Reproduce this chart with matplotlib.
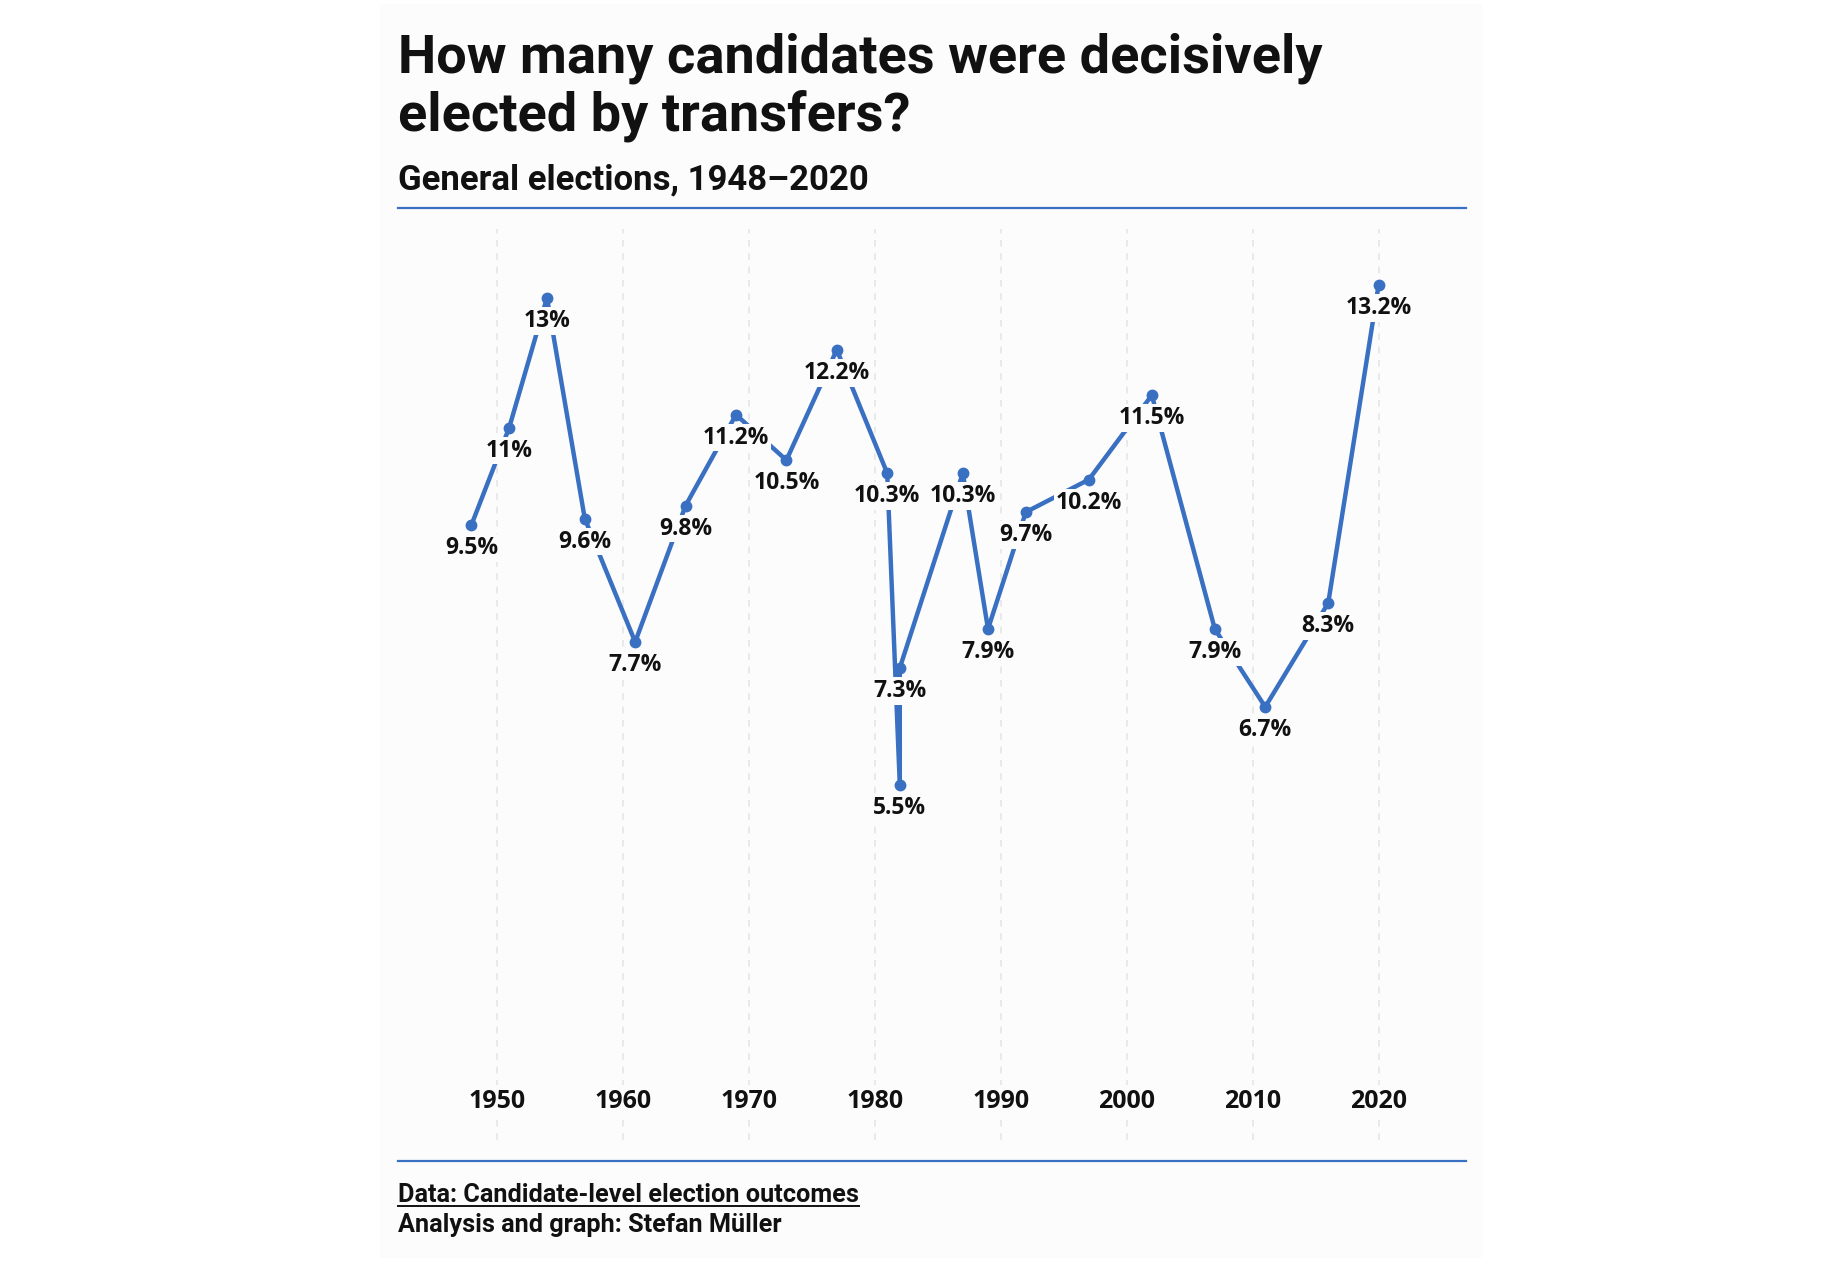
import matplotlib
matplotlib.use('Agg')
import matplotlib.pyplot as plt
from matplotlib.patches import Rectangle
from matplotlib.lines import Line2D

# data: share of candidates decisively elected by transfers
years = [1948, 1951, 1954, 1957, 1961, 1965, 1969, 1973, 1977, 1981,
         1982, 1982, 1987, 1989, 1992, 1997, 2002, 2007, 2011, 2016, 2020]
share = [9.5, 11.0, 13.0, 9.6, 7.7, 9.8, 11.2, 10.5, 12.2, 10.3,
         5.5, 7.3, 10.3, 7.9, 9.7, 10.2, 11.5, 7.9, 6.7, 8.3, 13.2]
labels = ['9.5%', '11%', '13%', '9.6%', '7.7%', '9.8%', '11.2%', '10.5%', '12.2%', '10.3%',
          '5.5%', '7.3%', '10.3%', '7.9%', '9.7%', '10.2%', '11.5%', '7.9%', '6.7%', '8.3%', '13.2%']
decades = [1950, 1960, 1970, 1980, 1990, 2000, 2010, 2020]

blue = '#3a70c2'
ink = '#111111'
bg = '#fcfcfc'
W, H = 1826, 1280


def fx(px):
    return px / W


def fy(py):
    return 1 - py / H


fig = plt.figure(figsize=(W / 100, H / 100), dpi=100)
fig.patch.set_facecolor('white')
fig.patches.append(Rectangle((fx(380), fy(1258)), fx(1482) - fx(380), fy(4) - fy(1258),
                             transform=fig.transFigure, facecolor=bg, edgecolor='none', zorder=-5))

# titles
fig.text(fx(398), fy(72), 'How many candidates were decisively', fontsize=39,
         fontweight='bold', family='Roboto', color=ink, va='baseline')
fig.text(fx(398), fy(130), 'elected by transfers?', fontsize=39,
         fontweight='bold', family='Roboto', color=ink, va='baseline')
fig.text(fx(398), fy(189), 'General elections, 1948\u20132020', fontsize=25,
         fontweight='bold', family='Roboto', color=ink, va='baseline')

# rules
fig.add_artist(Line2D([fx(398), fx(1466)], [fy(208), fy(208)], color=blue, lw=1.6))
fig.add_artist(Line2D([fx(398), fx(1466)], [fy(1161), fy(1161)], color=blue, lw=1.6))

# plot panel
ax = fig.add_axes([fx(426), fy(1140), fx(1424) - fx(426), fy(229) - fy(1140)])
ax.set_facecolor('none')
ax.plot(years, share, color=blue, lw=3.2, marker='o', markersize=7.5, zorder=2)
for x, y, t in zip(years, share, labels):
    ax.annotate(t, (x, y), xytext=(0, -16.5), textcoords='offset points',
                ha='center', va='center', fontsize=16.5, fontweight='bold',
                family='Open Sans', color=ink, zorder=3,
                bbox=dict(boxstyle='square,pad=0.08', facecolor=bg, edgecolor='none'))

ax.set_xlim(1944.4, 2023.6)
ax.set_ylim(0.03, 14.06)
ax.set_xticks(decades)
ax.set_xticklabels([str(d) for d in decades], fontsize=18, fontweight='bold',
                   family='Open Sans', color=ink)
ax.tick_params(axis='x', length=0, pad=-37)
ax.set_yticks([])
ax.grid(axis='x', color='#e6e6e6', lw=1.2, linestyle=(0, (4, 4)))
ax.set_axisbelow(True)
for lab in ax.get_xticklabels():
    lab.set_bbox(dict(boxstyle='square,pad=0.15', facecolor=bg, edgecolor='none'))
for s in ax.spines.values():
    s.set_visible(False)

# caption
cap = fig.text(fx(398), fy(1202), 'Data: Candidate-level election outcomes', fontsize=18.2,
               fontweight='bold', family='Roboto', color=ink, va='baseline')
fig.text(fx(398), fy(1232), 'Analysis and graph: Stefan M\u00fcller', fontsize=18.2,
         fontweight='bold', family='Roboto', color=ink, va='baseline')
fig.canvas.draw()
bb = cap.get_window_extent()
fig.add_artist(Line2D([bb.x0 / W, bb.x1 / W], [fy(1206), fy(1206)], color=ink, lw=1.4))

fig.savefig('out.png', dpi=100, facecolor='white')
